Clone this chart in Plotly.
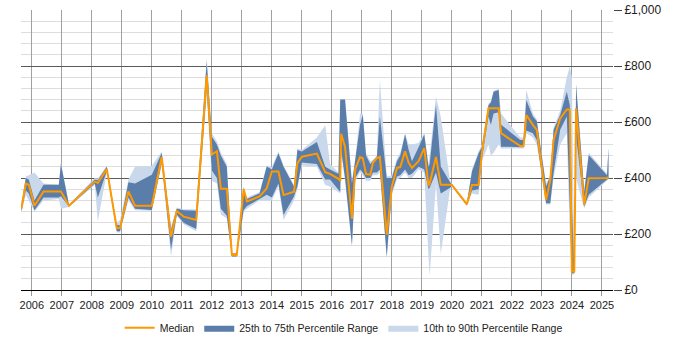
import plotly.graph_objects as go

dates = [2005.65, 2005.8, 2005.9, 2006.09, 2006.39, 2006.9, 2006.97, 2007.24, 2008.1, 2008.2,
         2008.5, 2008.83, 2008.94, 2009.22, 2009.44, 2010.0, 2010.33, 2010.64, 2010.83, 2011.06,
         2011.48, 2011.83, 2012.0, 2012.17, 2012.3, 2012.5, 2012.67, 2012.83, 2013.06, 2013.17,
         2013.59, 2013.83, 2014.0, 2014.22, 2014.39, 2014.74, 2014.85, 2015.0, 2015.5, 2015.78,
         2015.94, 2016.22, 2016.28, 2016.31, 2016.44, 2016.67, 2016.78, 2016.94, 2017.03, 2017.14,
         2017.28, 2017.37, 2017.5, 2017.6, 2017.83, 2018.0, 2018.17, 2018.28, 2018.44, 2018.56,
         2018.67, 2018.89, 2019.08, 2019.22, 2019.26, 2019.47, 2019.63, 2019.94, 2020.0, 2020.5,
         2020.67, 2020.89, 2021.0, 2021.22, 2021.3, 2021.39, 2021.56, 2021.64, 2022.28, 2022.39,
         2022.48, 2022.7, 2022.83, 2023.14, 2023.28, 2023.39, 2023.61, 2023.83, 2023.93, 2024.0,
         2024.08, 2024.14, 2024.41, 2024.56, 2025.17, 2025.22]

median = [290, 380, 376, 301, 352, 352, 352, 301, 388, 382,
          432, 221, 221, 352, 301, 301, 475, 190, 282, 262,
          250, 767, 484, 496, 362, 362, 125, 125, 360, 316,
          334, 363, 423, 423, 339, 351, 452, 476, 487, 421,
          415, 397, 390, 558, 511, 255, 432, 475, 471, 414,
          412, 454, 471, 475, 198, 370, 436, 439, 495, 454,
          436, 460, 507, 373, 380, 475, 376, 376, 375, 306,
          375, 375, 488, 649, 649, 649, 649, 560, 514, 514,
          625, 590, 572, 322, 393, 536, 613, 645, 645, 66,
          66, 649, 304, 399, 400, 403]

p25 = [280, 355, 345, 285, 330, 330, 335, 298, 380, 330,
       425, 210, 210, 330, 290, 286, 455, 145, 270, 240,
       218, 720, 427, 400, 290, 265, 120, 120, 286, 300,
       325, 340, 330, 380, 268, 335, 370, 455, 450, 395,
       395, 358, 350, 500, 400, 162, 400, 430, 420, 400,
       400, 420, 420, 430, 120, 350, 405, 410, 430, 410,
       415, 440, 430, 360, 365, 420, 345, 365, 372, 303,
       355, 360, 470, 620, 590, 630, 635, 512, 510, 510,
       570, 560, 536, 310, 310, 420, 572, 620, 300, 60,
       60, 550, 298, 340, 395, 398]

p75 = [300, 400, 395, 320, 376, 376, 450, 304, 395, 392,
       440, 233, 230, 385, 380, 412, 489, 215, 290, 285,
       283, 815, 547, 520, 480, 440, 130, 130, 365, 325,
       345, 441, 430, 488, 440, 370, 500, 495, 529, 440,
       430, 415, 680, 680, 680, 380, 460, 590, 626, 480,
       450, 460, 475, 620, 400, 400, 460, 480, 555, 500,
       460, 510, 555, 440, 450, 662, 441, 385, 378, 310,
       423, 488, 510, 660, 670, 708, 714, 590, 536, 536,
       679, 620, 604, 370, 406, 572, 625, 708, 660, 300,
       80, 732, 350, 482, 410, 506]

p10 = [275, 340, 320, 280, 320, 325, 290, 296, 375, 245,
       420, 205, 205, 320, 285, 283, 445, 120, 265, 235,
       210, 700, 390, 380, 270, 255, 118, 118, 280, 290,
       320, 318, 320, 370, 250, 320, 360, 445, 440, 375,
       370, 350, 345, 490, 390, 150, 390, 420, 410, 390,
       390, 410, 410, 420, 110, 340, 395, 400, 420, 400,
       400, 430, 420, 120, 51, 380, 129, 360, 370, 300,
       345, 340, 460, 520, 480, 490, 520, 505, 505, 505,
       560, 545, 520, 305, 305, 400, 520, 560, 200, 55,
       55, 400, 290, 330, 390, 395]

p90 = [305, 405, 410, 420, 380, 376, 455, 306, 400, 398,
       445, 240, 250, 395, 440, 444, 495, 225, 295, 288,
       288, 830, 560, 530, 490, 450, 132, 132, 370, 330,
       350, 445, 440, 495, 445, 375, 505, 500, 545, 588,
       450, 420, 680, 680, 680, 390, 470, 630, 630, 490,
       460, 465, 480, 751, 405, 410, 470, 490, 560, 520,
       520, 525, 560, 450, 480, 690, 620, 390, 380, 312,
       430, 495, 520, 665, 675, 712, 718, 630, 545, 545,
       714, 630, 610, 380, 410, 580, 640, 760, 798, 760,
       90, 740, 360, 490, 415, 510]

year_ticks = list(range(2006, 2026))
y_ticks = [0, 200, 400, 600, 800, 1000]
y_labels = ["£0", "£200", "£400", "£600", "£800", "£1,000"]

DARK = "rgb(90,125,170)"
LIGHT = "rgb(201,216,235)"
ORANGE = "rgb(255,153,0)"

fig = go.Figure()
fig.add_trace(go.Scatter(x=dates, y=p10, mode="lines", line=dict(width=0, color=LIGHT),
                         showlegend=False, hoverinfo="skip"))
fig.add_trace(go.Scatter(x=dates, y=p90, mode="lines", line=dict(width=0, color=LIGHT),
                         fill="tonexty", fillcolor=LIGHT, name="10th to 90th Percentile Range",
                         legendrank=3))
fig.add_trace(go.Scatter(x=dates, y=p25, mode="lines", line=dict(width=0, color=DARK),
                         showlegend=False, hoverinfo="skip"))
fig.add_trace(go.Scatter(x=dates, y=p75, mode="lines", line=dict(width=0, color=DARK),
                         fill="tonexty", fillcolor=DARK, name="25th to 75th Percentile Range",
                         legendrank=2))
fig.add_trace(go.Scatter(x=dates, y=median, mode="lines", line=dict(width=2, color=ORANGE),
                         name="Median", legendrank=1))

fig.update_layout(
    width=700, height=350,
    margin=dict(l=21, r=87, t=10, b=60, autoexpand=False),
    paper_bgcolor="white", plot_bgcolor="white",
    font=dict(family="Liberation Sans, Arial, sans-serif", size=11, color="#222"),
    legend=dict(orientation="h", x=0.545, xanchor="center",
                y=-0.135, yanchor="middle", font=dict(size=10.5, color="#222"),
                traceorder="normal"),
    xaxis=dict(range=[2005.64, 2025.37], tickvals=year_ticks,
               ticktext=[str(y) for y in year_ticks], tickangle=0,
               showgrid=True, gridcolor="#a0a0a0", gridwidth=1,
               showline=True, linecolor="#000", linewidth=1,
               ticks="outside", ticklen=5, tickcolor="#999",
               zeroline=False, tickfont=dict(size=11)),
    yaxis=dict(range=[0, 1000], side="right", tickvals=y_ticks, ticktext=y_labels,
               showgrid=True, gridcolor="#5a5a5a", gridwidth=1,
               ticks="outside", ticklen=8, tickcolor="#444",
               zeroline=False, tickfont=dict(size=12),
               minor=dict(dtick=40, tick0=0, showgrid=True, gridcolor="#dddddd", gridwidth=1)),
)

fig.write_html("out.html")
